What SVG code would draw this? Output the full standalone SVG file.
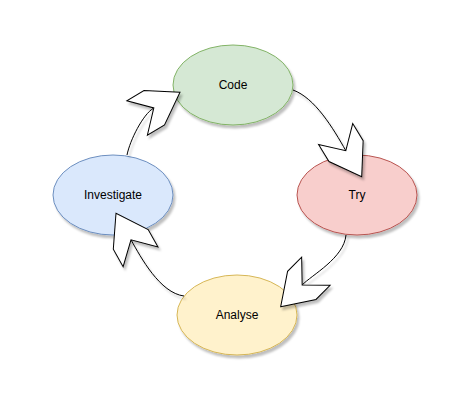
<svg xmlns="http://www.w3.org/2000/svg" width="473" height="400" viewBox="0 0 473 400">
<defs>
<filter id="sh" x="-20%" y="-20%" width="140%" height="140%">
<feDropShadow dx="2" dy="3" stdDeviation="1.2" flood-color="#000" flood-opacity="0.25"/>
</filter>
<polygon id="chev" points="0,0 -30,-20 -50,-20 -30.5,0 -50,20 -30,20"/>
</defs>
<style>
.node ellipse{stroke-width:1;filter:url(#sh)}
.node text{font-family:"Liberation Sans",Arial,sans-serif;font-size:12px;fill:#000;text-anchor:middle;dominant-baseline:central}
.edge path{fill:none;stroke:#000;stroke-width:1}
.edge use{fill:#fff;stroke:#000;stroke-width:1;stroke-linejoin:miter}
#connectors{filter:url(#sh)}
</style>
<rect width="473" height="400" fill="#fff"/>
<g id="nodes">
<g id="code" class="node"><ellipse cx="233" cy="85" rx="60" ry="40" fill="#d5e8d4" stroke="#82b366"/><text x="233" y="85">Code</text></g>
<g id="try" class="node"><ellipse cx="357" cy="195" rx="60" ry="40" fill="#f8cecc" stroke="#b85450"/><text x="357" y="195">Try</text></g>
<g id="analyse" class="node"><ellipse cx="237" cy="315" rx="60" ry="40" fill="#fff2cc" stroke="#d6b656"/><text x="237" y="315">Analyse</text></g>
<g id="investigate" class="node"><ellipse cx="113" cy="195" rx="60" ry="40" fill="#dae8fc" stroke="#6c8ebf"/><text x="113" y="195">Investigate</text></g>
</g>
<g id="connectors">
<g id="e-investigate-code" class="edge"><path d="M127,155 C130,140 143,114.5 153.3,108.3"/><use href="#chev" transform="translate(180,92.3) rotate(-30.9)"/></g>
<g id="e-code-try" class="edge"><path d="M293,90 C315,98 333,128 346,151"/><use href="#chev" transform="translate(361.7,176.7) rotate(58.6)"/></g>
<g id="e-try-analyse" class="edge"><path d="M346,235 C344,258 311.8,275 302.1,285"/><use href="#chev" transform="translate(280.7,306.7) rotate(134.7)"/></g>
<g id="e-analyse-investigate" class="edge"><path d="M184,296 C160,293 140.8,257.4 131,239.8"/><use href="#chev" transform="translate(116,213.3) rotate(-119.4)"/></g>
</g>
</svg>
